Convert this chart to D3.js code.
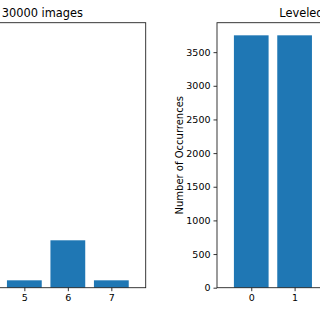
<!DOCTYPE html>
<html>
<head>
<meta charset="utf-8">
<script src="https://cdn.jsdelivr.net/npm/d3@7"></script>
<style>
  body { margin: 0; background: #fff; }
  svg { display: block; font-family: "DejaVu Sans", sans-serif; }
</style>
</head>
<body>
<div id="chart"></div>
<script>
// class labels shared by both panels
var classes = [0, 1, 2, 3, 4, 5, 6, 7]
// left panel: original counts (only 5..7 are visible in the crop)
var originalCounts = [6320, 6010, 5690, 5370, 5053, 185, 1187, 185]
// right panel: leveled counts, 30000 / 8
var leveledCounts = [3750, 3750, 3750, 3750, 3750, 3750, 3750, 3750]
var leveledTicks = [0, 500, 1000, 1500, 2000, 2500, 3000, 3500]

var titles = ["Original Class Distribution of 30000 images",
              "Leveled Class Distribution of 30000 images"]
var yLabel = "Number of Occurrences"

var W = 320, H = 320
var plotTop = 22.7, plotBottom = 287.7
var blue = "#1f77b4"

var svg = d3.select("#chart").append("svg")
    .attr("width", W)
    .attr("height", H)

function panel(left, right, counts, ticks, title) {
    var x = d3.scaleLinear().domain([-0.79, 7.79]).range([left, right])
    var y = d3.scaleLinear().domain([0, d3.max(counts) * 1.05]).range([plotBottom, plotTop])

    var g = svg.append("g")

    // bars
    g.selectAll("rect.bar")
      .data(classes)
      .enter().append("rect")
        .attr("class", "bar")
        .attr("x", function(d) { return x(d - 0.4) })
        .attr("width", function(d) { return x(d + 0.4) - x(d - 0.4) })
        .attr("y", function(d) { return y(counts[d]) })
        .attr("height", function(d) { return plotBottom - y(counts[d]) })
        .attr("fill", blue)

    // x axis (only ticks that land inside the crop)
    var xa = g.append("g")
      .attr("transform", "translate(0," + plotBottom + ")")
      .call(d3.axisBottom(x)
        .tickValues(classes.filter(function(d) { return x(d) > 4 && x(d) < W - 4 }))
        .tickSize(3.5).tickPadding(3).tickFormat(d3.format("d")))
    xa.select(".domain").remove()

    // y axis, only when it is inside the crop
    if (ticks && left > 0) {
      var ya = g.append("g")
        .attr("transform", "translate(" + left + ",0)")
        .call(d3.axisLeft(y).tickValues(ticks).tickSize(3.5).tickPadding(3).tickFormat(d3.format("d")))
      ya.select(".domain").remove()

      g.append("text")
        .attr("transform", "translate(" + (left - 34.5) + "," + ((plotTop + plotBottom) / 2) + ") rotate(-90)")
        .attr("text-anchor", "middle")
        .attr("font-size", "10px")
        .text(yLabel)
    }

    g.selectAll(".tick text").attr("font-size", "9.5px").attr("fill", "#000")
      .attr("font-family", "DejaVu Sans")
    g.selectAll(".tick line").attr("stroke", "#000").attr("stroke-width", 0.8)

    // frame
    g.append("rect")
      .attr("x", left).attr("y", plotTop)
      .attr("width", right - left).attr("height", plotBottom - plotTop)
      .attr("fill", "none").attr("stroke", "#222").attr("stroke-width", 0.9)

    // title
    g.append("text")
      .attr("x", (left + right) / 2)
      .attr("y", 17)
      .attr("text-anchor", "middle")
      .attr("font-size", "11.4px")
      .text(title)
}

panel(-227.5, 145.7, originalCounts, null, titles[0])
panel(217, 589, leveledCounts, leveledTicks, titles[1])
</script>
</body>
</html>
